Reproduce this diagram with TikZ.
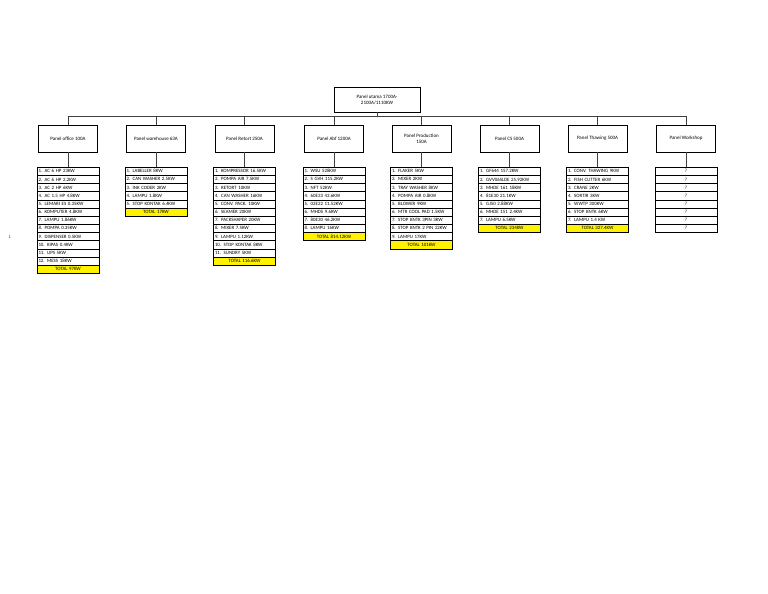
\documentclass[tikz,border=0pt]{standalone}
\usepackage{fontspec}
\setmainfont{Carlito}
\newcommand\mycol[6]{% #1 id, #2 cx, #3 header, #4 items, #5 count, #6 total
  \node[hbox] (h#1) at (#2,138.5) {#3};
  \foreach \t [count=\j] in {#4} {
    \node[cell] (c#1r\j) at (#2,{167+(\j-1)*8.15}) {\t};
  }
  \node[tot] (t#1) at (#2,{167+#5*8.15}) {#6};
  \draw[conn] (h#1.south) -- (c#1r1.north);
  \draw[conn] (h#1.north) -- (h#1.north |- bus);
}
\begin{document}
\begin{tikzpicture}[x=1pt,y=-1pt,
  hbox/.style={draw, line width=0.6pt, minimum width=59pt, minimum height=27pt,
    font=\fontsize{5}{6}\selectfont, align=center, inner sep=1pt},
  cell/.style={draw, line width=0.35pt, text width=59pt, inner xsep=1.5pt, inner ysep=0pt,
    minimum height=8.15pt, font=\fontsize{4.9}{5}\selectfont, anchor=north, align=left},
  tot/.style={cell, fill=yellow, align=center},
  qcell/.style={cell, align=center},
  conn/.style={line width=0.6pt, draw=black!75}]
\useasboundingbox (0,0) rectangle (768,594);
\node[hbox, minimum width=86pt, minimum height=25pt] (top) at (377,99.5) {Panel utama 1700A-\\2100A/1110KW};
\coordinate (bus) at (377,116);
\draw[conn] (top.south) -- (bus);

\mycol{1}{68}{Panel office 100A}{1. AC 6 HP 23KW,2. AC 6 HP 2.2KW,3. AC 2 HP 6KW,4. AC 1.5 HP 4.8KW,5. LEMARI ES 0.35KW,6. KOMPUTER 4.8KW,7. LAMPU 1.86KW,8. POMPA 0.35KW,9. DISPENSER 0.5KW,10. KIPAS 0.4KW,11. UPS 5KW,12. MESS 18KW}{12}{TOTAL 97KW}
\mycol{2}{156}{Panel warehouse 63A}{1. LABELLER 8KW,2. CAN WASHER 2.5KW,3. INK CODER 2KW,4. LAMPU 1.8KW,5. STOP KONTAK 6.4KW}{5}{TOTAL 17KW}
\mycol{3}{244.5}{Panel Retort 250A}{1. KOMPRESSOR 16.5KW,2. POMPA AIR 7.5KW,3. RETORT 10KW,4. CAN WASHER 16KW,5. CONV. PACK. 10KW,6. SEAMER 20KW,7. PACKSHAPER 20KW,8. MIXER 7.5KW,9. LAMPU 1.12KW,10. STOP KONTAK 8KW,11. SUNDRY 5KW}{11}{TOTAL 116.6KW}
\mycol{4}{334}{Panel Abf 1200A}{1. WSU 528KW,2. S GVH 115.2KW,3. NFT 52KW,4. 60E33 43.6KW,5. 02E22 11.52KW,6. MHDS 9.6KW,7. 80E30 46.2KW,8. LAMPU 16KW}{8}{TOTAL 814.12KW}
\mycol{5}{421.5}{Panel Production\\150A}{1. FLAKER 5KW,2. MIXER 2KW,3. TRAY WASHER 8KW,4. POMPA AIR 0.8KW,5. BLOWER 9KW,6. MTR COOL PAD 1.5KW,7. STOP KNTK 3PIN 3KW,8. STOP KNTK 2 PIN 22KW,9. LAMPU 17KW}{9}{TOTAL 101KW}
\mycol{6}{509.5}{Panel CS 500A}{1. GF644 157.2KW,2. GVV06SLDE 25.92KW,3. MHDE 161 18KW,4. 81E30 21.1KW,5. GJ50 2.88KW,6. MHDE 151 2.4KW,7. LAMPU 6.5KW}{7}{TOTAL 234KW}
\mycol{7}{597.5}{Panel Thawing 500A}{1. CONV. THAWING 9KW,2. FISH CUTTER 6KW,3. CRANE 2KW,4. SORTIR 3KW,5. WWTP 300KW,6. STOP KNTK 6KW,7. LAMPU 1.4 KW}{7}{TOTAL 327.4KW}

\node[hbox] (h8) at (686,138.5) {Panel Workshop};
\foreach \j in {1,...,8} {
  \node[qcell] (c8r\j) at (686,{167+(\j-1)*8.15}) {?};
}
\draw[conn] (h8.south) -- (c8r1.north);
\draw[conn] (h8.north) -- (h8.north |- bus);
\draw[conn] (h1.north |- bus) -- (h8.north |- bus);

\node[font=\fontsize{5}{6}\selectfont, text=black!70] (lbl) at (10,237) {L};
\end{tikzpicture}
\end{document}
